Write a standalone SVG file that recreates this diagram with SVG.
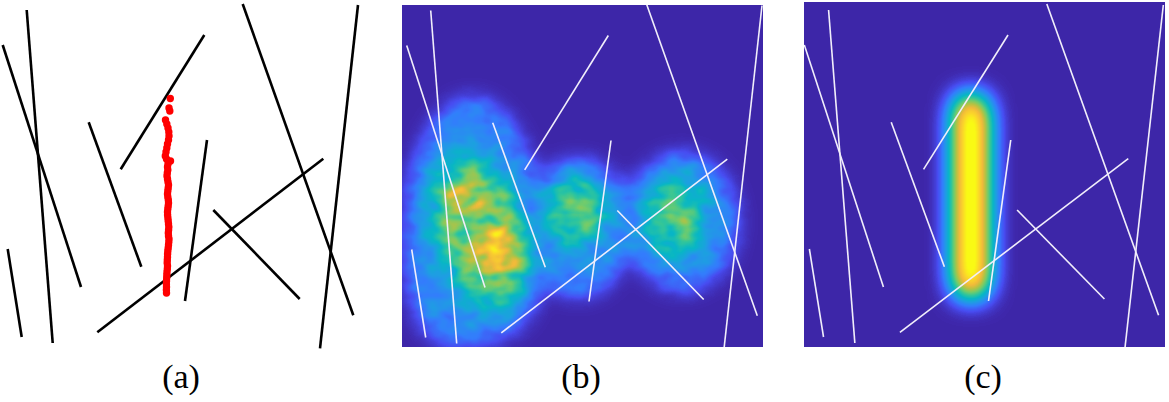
<svg xmlns="http://www.w3.org/2000/svg" xmlns:xlink="http://www.w3.org/1999/xlink" width="1169" height="402" viewBox="0 0 1169 402">
<style>
.lbl{font-family:"Liberation Serif","Times New Roman",serif;font-size:34px;fill:#000;text-anchor:middle}
.blk{stroke:#000;stroke-width:2.6;stroke-linecap:butt}
.wht{stroke:#f1eefb;stroke-width:1.6}
.dot{fill:#ff0000}
</style>
<defs>
<g id="lines" fill="none">
<line x1="26.7" y1="10" x2="52.7" y2="343"/>
<line x1="2.7" y1="45" x2="81" y2="287"/>
<line x1="7.7" y1="249" x2="21.7" y2="337"/>
<line x1="88.7" y1="122.3" x2="141.3" y2="266.7"/>
<line x1="120.7" y1="169.3" x2="204.3" y2="35"/>
<line x1="185" y1="301" x2="207" y2="140"/>
<line x1="97.3" y1="332.3" x2="323.3" y2="158.7"/>
<line x1="213.3" y1="210" x2="299.7" y2="299"/>
<line x1="242.7" y1="4" x2="353.3" y2="315.3"/>
<line x1="358" y1="5" x2="320" y2="348.3"/>
</g>
<clipPath id="cb"><rect x="402" y="5" width="361" height="342"/></clipPath>
<clipPath id="cc"><rect x="804" y="2" width="361" height="345"/></clipPath>
<filter id="fb" filterUnits="userSpaceOnUse" x="402" y="5" width="361" height="342" color-interpolation-filters="sRGB">
<feGaussianBlur in="SourceGraphic" stdDeviation="10" result="bl"/>
<feFlood flood-color="#000" result="blk"/>
<feComposite in="bl" in2="blk" operator="over" result="gray"/>
<feTurbulence type="fractalNoise" baseFrequency="0.05 0.07" numOctaves="2" seed="7" result="tu"/>
<feColorMatrix in="tu" type="matrix" values="1 0 0 0 0 1 0 0 0 0 1 0 0 0 0 0 0 0 0 1" result="n"/>
<feComposite in="gray" in2="n" operator="arithmetic" k1="0.9" k2="0.58" k3="0" k4="0" result="mod"/>
<feComponentTransfer in="mod">
<feFuncR type="table" tableValues="0.243 0.280 0.200 0.120 0.030 0.190 0.450 0.720 0.945 0.985 0.977"/>
<feFuncG type="table" tableValues="0.150 0.300 0.490 0.620 0.715 0.775 0.800 0.760 0.730 0.830 0.984"/>
<feFuncB type="table" tableValues="0.660 0.945 0.990 0.890 0.775 0.610 0.420 0.260 0.230 0.170 0.081"/>
</feComponentTransfer>
</filter>
<filter id="fc" filterUnits="userSpaceOnUse" x="804" y="2" width="361" height="345" color-interpolation-filters="sRGB">
<feGaussianBlur in="SourceGraphic" stdDeviation="13" result="bl"/>
<feFlood flood-color="#000" result="blk"/>
<feComposite in="bl" in2="blk" operator="over" result="gray"/>
<feComponentTransfer in="gray" result="sc">
<feFuncR type="linear" slope="1.28"/>
<feFuncG type="linear" slope="1.28"/>
<feFuncB type="linear" slope="1.28"/>
</feComponentTransfer>
<feComponentTransfer in="sc">
<feFuncR type="table" tableValues="0.243 0.280 0.200 0.120 0.030 0.190 0.450 0.720 0.945 0.985 0.977"/>
<feFuncG type="table" tableValues="0.150 0.300 0.490 0.620 0.715 0.775 0.800 0.760 0.730 0.830 0.984"/>
<feFuncB type="table" tableValues="0.660 0.945 0.990 0.890 0.775 0.610 0.420 0.260 0.230 0.170 0.081"/>
</feComponentTransfer>
</filter>
</defs>

<rect width="1169" height="402" fill="#fff"/>

<g id="panel-a">
<use xlink:href="#lines" href="#lines" class="blk"/>
<g id="points">
<circle class="dot" cx="170.3" cy="98.5" r="3.7"/>
<circle class="dot" cx="169" cy="108" r="3.7"/>
<circle class="dot" cx="169.8" cy="111" r="3.7"/>
<circle class="dot" cx="165.5" cy="120" r="3.7"/>
<circle class="dot" cx="166.8" cy="124" r="3.7"/>
<circle class="dot" cx="168" cy="128" r="3.7"/>
<circle class="dot" cx="168.8" cy="132" r="3.7"/>
<circle class="dot" cx="169" cy="136" r="3.7"/>
<circle class="dot" cx="168.5" cy="140" r="3.7"/>
<circle class="dot" cx="167.5" cy="144" r="3.7"/>
<circle class="dot" cx="166.8" cy="148" r="3.7"/>
<circle class="dot" cx="166" cy="152" r="3.7"/>
<circle class="dot" cx="165.3" cy="156" r="3.7"/>
<circle class="dot" cx="166.5" cy="159" r="3.7"/>
<circle class="dot" cx="170.5" cy="161" r="3.7"/>
<circle class="dot" cx="168" cy="164" r="3.7"/>
<circle class="dot" cx="167.5" cy="167" r="3.7"/>
<circle class="dot" cx="167.8" cy="170" r="3.7"/>
<circle class="dot" cx="167.3" cy="173" r="3.7"/>
<circle class="dot" cx="167" cy="176" r="3.7"/>
<circle class="dot" cx="167.5" cy="179" r="3.7"/>
<circle class="dot" cx="168" cy="182" r="3.7"/>
<circle class="dot" cx="168.5" cy="185" r="3.7"/>
<circle class="dot" cx="168.2" cy="188" r="3.7"/>
<circle class="dot" cx="167.8" cy="191" r="3.7"/>
<circle class="dot" cx="167.5" cy="194" r="3.7"/>
<circle class="dot" cx="167.8" cy="197" r="3.7"/>
<circle class="dot" cx="168.3" cy="200" r="3.7"/>
<circle class="dot" cx="168.5" cy="203" r="3.7"/>
<circle class="dot" cx="168.2" cy="206" r="3.7"/>
<circle class="dot" cx="167.8" cy="209" r="3.7"/>
<circle class="dot" cx="167.5" cy="212" r="3.7"/>
<circle class="dot" cx="167.6" cy="215" r="3.7"/>
<circle class="dot" cx="167.9" cy="218" r="3.7"/>
<circle class="dot" cx="168.2" cy="221" r="3.7"/>
<circle class="dot" cx="168.5" cy="224" r="3.7"/>
<circle class="dot" cx="168.8" cy="227" r="3.7"/>
<circle class="dot" cx="168.6" cy="230" r="3.7"/>
<circle class="dot" cx="168.3" cy="233" r="3.7"/>
<circle class="dot" cx="168.5" cy="236" r="3.7"/>
<circle class="dot" cx="169" cy="239" r="3.7"/>
<circle class="dot" cx="168.8" cy="242" r="3.7"/>
<circle class="dot" cx="168.5" cy="245" r="3.7"/>
<circle class="dot" cx="168.2" cy="248" r="3.7"/>
<circle class="dot" cx="167.8" cy="251" r="3.7"/>
<circle class="dot" cx="167.6" cy="254" r="3.7"/>
<circle class="dot" cx="167.5" cy="257" r="3.7"/>
<circle class="dot" cx="167.3" cy="260" r="3.7"/>
<circle class="dot" cx="167.2" cy="263" r="3.7"/>
<circle class="dot" cx="167.5" cy="266" r="3.7"/>
<circle class="dot" cx="167.3" cy="269" r="3.7"/>
<circle class="dot" cx="167" cy="272" r="3.7"/>
<circle class="dot" cx="166.8" cy="275" r="3.7"/>
<circle class="dot" cx="166.7" cy="278" r="3.7"/>
<circle class="dot" cx="166.5" cy="281" r="3.7"/>
<circle class="dot" cx="166.4" cy="284" r="3.7"/>
<circle class="dot" cx="166.5" cy="287" r="3.7"/>
<circle class="dot" cx="166.4" cy="290" r="3.7"/>
<circle class="dot" cx="166.5" cy="293" r="3.7"/>
</g>
</g>

<g id="panel-b">
<g filter="url(#fb)">
<rect x="525" y="180" width="120" height="80" fill="rgb(34,34,34)"/>
<path d="M408,190 C414,150 440,102 468,98 C498,96 520,130 534,170 C550,205 550,265 532,310 C514,340 480,348 450,345 C421,340 406,300 404,250 Z" fill="rgb(60,60,60)"/>
<ellipse cx="578" cy="228" rx="52" ry="68" fill="rgb(60,60,60)"/>
<ellipse cx="682" cy="222" rx="55" ry="68" fill="rgb(60,60,60)"/>
<ellipse cx="478" cy="232" rx="48" ry="82" transform="rotate(-18 478 232)" fill="rgb(112,112,112)"/>
<ellipse cx="484" cy="236" rx="35" ry="66" transform="rotate(-22 484 236)" fill="rgb(150,150,150)"/>
<ellipse cx="470" cy="194" rx="13" ry="18" fill="rgb(200,200,200)"/>
<ellipse cx="500" cy="250" rx="16" ry="30" fill="rgb(215,215,215)"/>
<ellipse cx="576" cy="212" rx="32" ry="38" fill="rgb(112,112,112)"/>
<ellipse cx="573" cy="207" rx="18" ry="22" fill="rgb(140,140,140)"/>
<ellipse cx="676" cy="216" rx="32" ry="44" fill="rgb(112,112,112)"/>
<ellipse cx="676" cy="218" rx="16" ry="24" fill="rgb(140,140,140)"/>
</g>
<g clip-path="url(#cb)">
<use xlink:href="#lines" href="#lines" class="wht" transform="translate(404,0.5)"/>
</g>
</g>

<g id="panel-c">
<g filter="url(#fc)">
<rect x="955" y="95" width="32" height="203" rx="16" fill="#fff"/>
</g>
<g clip-path="url(#cc)">
<use xlink:href="#lines" href="#lines" class="wht" transform="matrix(1.0104,0,0,1,801.6,0)"/>
</g>
</g>

<g id="labels">
<text class="lbl" x="181" y="388">(a)</text>
<text class="lbl" x="581" y="388">(b)</text>
<text class="lbl" x="983" y="388">(c)</text>
</g>
</svg>
